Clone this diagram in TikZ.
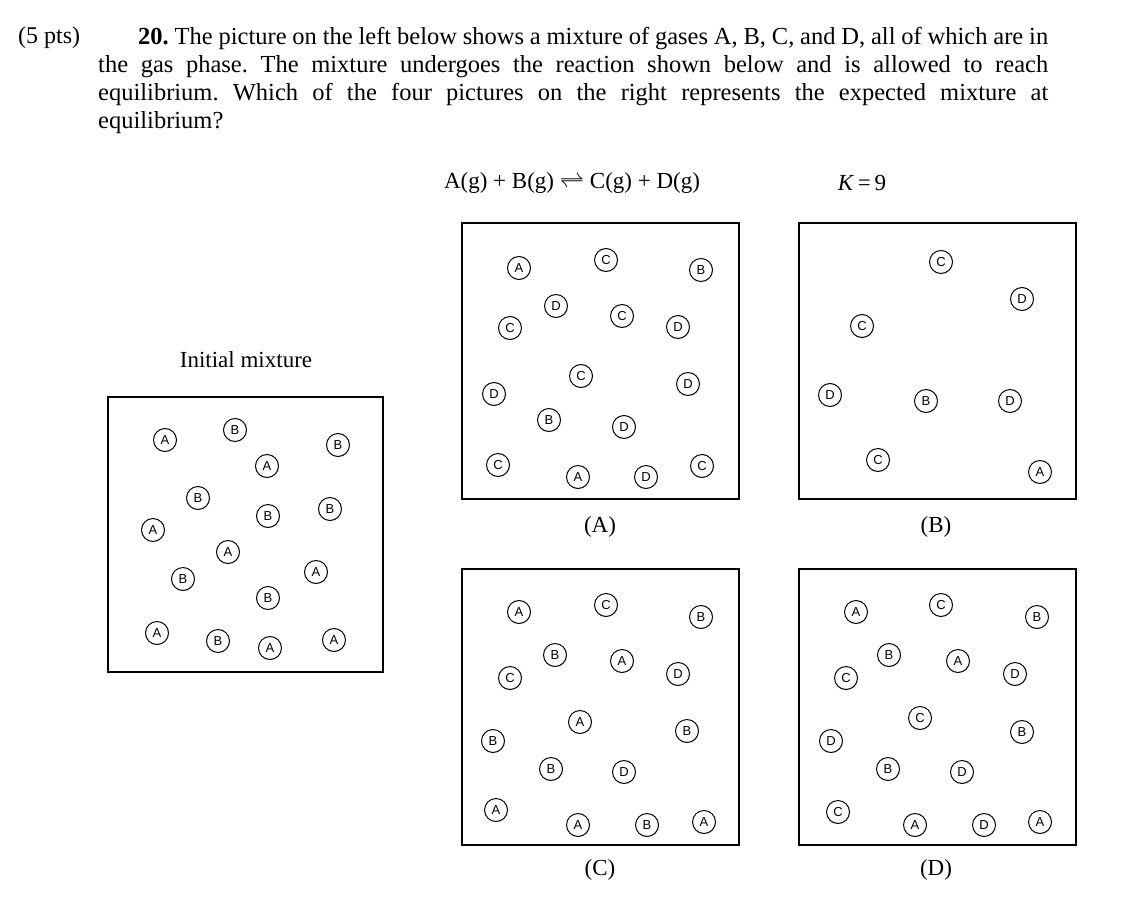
\documentclass[tikz,border=0pt]{standalone}
\usepackage{fontspec}
\setmainfont{Liberation Serif}
\setsansfont{Liberation Sans}
\begin{document}
\begin{tikzpicture}[x=1pt,y=-1pt,
  mol/.style={circle,draw,line width=1pt,minimum size=23pt,inner sep=0pt,font=\sffamily\fontsize{13}{13}\selectfont},
  box/.style={draw,line width=1.3pt},
  lab/.style={font=\fontsize{23}{23}\selectfont}]
\useasboundingbox (0,0) rectangle (1132,918);
\node[anchor=north west,inner sep=0pt,font=\fontsize{24}{28}\selectfont] (pts) at (18,27) {(5 pts)};
\node[anchor=north west,text width=950pt,align=justify,inner sep=0pt,font=\fontsize{24.5}{28}\selectfont] (q) at (98,27)
{\frenchspacing\noindent\hspace*{40pt}\textbf{20.} The picture on the left below shows a mixture of gases A, B, C, and D, all of which are in\linebreak the gas phase. The mixture undergoes the reaction shown below and is allowed to reach\linebreak equilibrium. Which of the four pictures on the right represents the expected mixture at\linebreak equilibrium?};
\node[lab] (eq) at (572,183) {A(g) + B(g) $\rightleftharpoons$ C(g) + D(g)};
\node[lab] (k) at (862,183) {\textit{K}\,=\,9};
\node[lab] (init) at (246,360) {Initial mixture};
\draw[box] (108,397) rectangle (383,672);
\draw[box] (462,223) rectangle (739,499);
\draw[box] (799,223) rectangle (1076,499);
\draw[box] (462,569) rectangle (739,845);
\draw[box] (799,569) rectangle (1076,845);
\node[lab] (la) at (600,527) {(A)};
\node[lab] (lb) at (936,527) {(B)};
\node[lab] (lc) at (600,870) {(C)};
\node[lab] (ld) at (936,870) {(D)};
\foreach \l/\x/\y [count=\i] in {A/165/440,B/235/430,B/338/445,A/267/466,B/198/498,B/268/516,B/330/509,A/153/530,A/228/552,A/316/572,B/183/579,B/268/598,A/157/633,B/218/641,A/270/648,A/334/640,
 A/519/268,C/606/260,B/701/270,D/556/306,C/622/316,C/510/328,D/678/327,C/581/376,D/688/384,D/494/394,B/549/420,D/624/427,C/498/465,A/578/477,D/646/477,C/702/466,
 C/941/262,D/1022/299,C/862/326,D/830/395,B/926/401,D/1010/401,C/878/460,A/1040/472,
 A/519/612,C/606/605,B/701/617,B/555/655,A/622/661,C/510/678,D/678/674,A/580/722,B/687/731,B/493/741,B/551/769,D/624/772,A/496/810,A/578/825,B/647/825,A/704/822,
 A/856/612,C/941/605,B/1037/617,B/889/655,A/958/661,C/846/678,D/1015/674,C/920/718,B/1022/732,D/831/741,B/888/769,D/962/772,C/838/812,A/915/825,D/984/825,A/1040/822}
  \node[mol] (m\i) at (\x,\y) {\l};
\end{tikzpicture}
\end{document}
